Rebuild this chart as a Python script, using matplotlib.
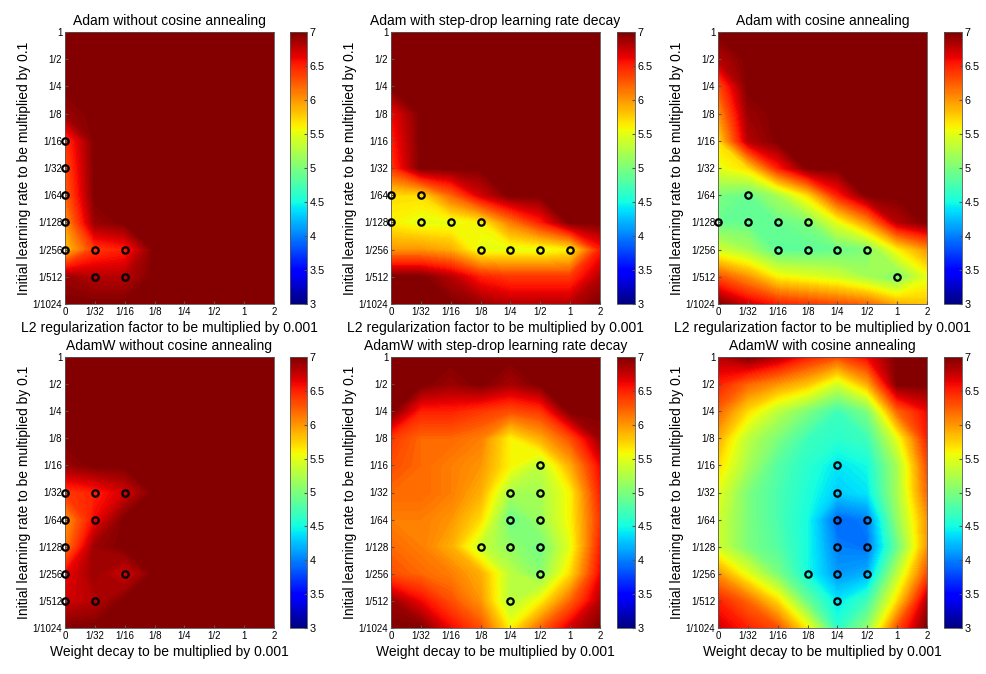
"""Six heat maps of test error: Adam vs AdamW, three learning-rate schedules."""

import matplotlib
matplotlib.use("Agg")
import matplotlib.pyplot as plt
import numpy as np
from matplotlib.colors import Normalize
from matplotlib.cm import ScalarMappable

plt.rcParams["font.family"] = ["Liberation Sans", "DejaVu Sans"]

x_labels = ["0", "1/32", "1/16", "1/8", "1/4", "1/2", "1", "2"]
y_labels = ["1/1024", "1/512", "1/256", "1/128", "1/64", "1/32",
            "1/16", "1/8", "1/4", "1/2", "1"]

# rows run top (lr 1) to bottom (lr 1/1024); columns follow x_labels.
# values above 7 are shown as the top colour.
adam_fixed = [
    [8, 8, 8, 8, 8, 8, 8, 8],
    [8, 8, 8, 8, 8, 8, 8, 8],
    [8, 8, 8, 8, 8, 8, 8, 8],
    [6.9, 7.0, 8, 8, 8, 8, 8, 8],
    [6.4, 7.05, 8, 8, 8, 8, 8, 8],
    [6.3, 7.05, 8, 8, 8, 8, 8, 8],
    [6.2, 7.05, 7.5, 8, 8, 8, 8, 8],
    [6.0, 6.9, 7.2, 7.5, 8, 8, 8, 8],
    [5.8, 6.4, 6.5, 7.0, 8, 8, 8, 8],
    [6.9, 6.8, 6.8, 7.3, 8, 8, 8, 8],
    [7.5, 7.3, 7.5, 8, 8, 8, 8, 8],
]
adam_step = [
    [8, 8, 8, 8, 8, 8, 8, 8],
    [7.6, 8, 8, 8, 8, 8, 8, 8],
    [7.0, 7.4, 8, 8, 8, 8, 8, 8],
    [6.6, 7.1, 8, 8, 8, 8, 8, 8],
    [6.5, 7.1, 8, 8, 8, 8, 8, 8],
    [6.4, 7.0, 7.5, 8, 8, 8, 8, 8],
    [5.7, 5.7, 6.2, 6.7, 7.2, 7.5, 8, 8],
    [5.6, 5.5, 5.5, 5.6, 6.1, 6.5, 7.0, 7.3],
    [6.0, 6.0, 5.9, 5.5, 5.5, 5.5, 5.6, 6.5],
    [7.0, 7.0, 6.8, 6.5, 6.4, 6.4, 6.4, 6.8],
    [7.5, 7.5, 7.2, 6.9, 6.8, 6.8, 6.8, 7.0],
]
adam_cos = [
    [7.1, 7.5, 8, 8, 8, 8, 8, 8],
    [6.8, 7.2, 8, 8, 8, 8, 8, 8],
    [6.3, 7.0, 8, 8, 8, 8, 8, 8],
    [6.0, 6.9, 8, 8, 8, 8, 8, 8],
    [5.7, 6.8, 8, 8, 8, 8, 8, 8],
    [5.5, 5.7, 6.5, 7.5, 8, 8, 8, 8],
    [5.0, 4.9, 5.2, 5.7, 6.5, 7.2, 8, 8],
    [4.9, 4.9, 4.9, 5.0, 5.5, 6.0, 6.8, 7.2],
    [5.4, 5.2, 4.85, 4.85, 4.9, 5.0, 5.6, 6.0],
    [6.3, 6.0, 5.6, 5.5, 5.4, 5.2, 5.0, 5.5],
    [7.0, 6.7, 6.5, 6.4, 6.3, 6.2, 5.9, 5.8],
]
adamw_fixed = [
    [8, 8, 8, 8, 8, 8, 8, 8],
    [8, 8, 8, 8, 8, 8, 8, 8],
    [8, 8, 8, 8, 8, 8, 8, 8],
    [7.05, 6.97, 7.1, 8, 8, 8, 8, 8],
    [6.9, 7.05, 7.1, 7.3, 8, 8, 8, 8],
    [6.4, 6.5, 6.7, 7.1, 8, 8, 8, 8],
    [6.0, 6.6, 7.1, 7.5, 8, 8, 8, 8],
    [6.1, 6.9, 7.2, 7.5, 8, 8, 8, 8],
    [6.6, 6.9, 6.7, 7.1, 8, 8, 8, 8],
    [6.7, 6.8, 7.0, 7.2, 8, 8, 8, 8],
    [7.1, 7.2, 7.3, 8, 8, 8, 8, 8],
]
adamw_step = [
    [7.5, 7.3, 7.2, 7.2, 7.3, 7.3, 7.5, 7.5],
    [7.2, 7.0, 6.9, 7.0, 6.85, 7.0, 7.3, 7.5],
    [7.0, 6.5, 6.5, 6.4, 6.3, 6.4, 7.0, 7.2],
    [6.4, 6.2, 6.2, 6.1, 5.6, 5.9, 6.3, 6.9],
    [6.3, 6.2, 6.1, 6.0, 5.6, 5.3, 5.9, 6.6],
    [6.2, 6.2, 6.1, 5.9, 5.2, 5.2, 5.6, 6.5],
    [6.1, 6.1, 6.0, 5.7, 4.9, 5.15, 5.6, 6.4],
    [6.2, 6.1, 5.9, 5.35, 5.1, 4.95, 5.5, 6.5],
    [6.3, 6.2, 6.1, 5.9, 5.3, 5.05, 5.7, 6.6],
    [6.9, 6.6, 6.3, 6.0, 5.25, 5.6, 6.2, 6.8],
    [7.2, 7.0, 6.6, 6.3, 5.6, 6.2, 6.7, 7.1],
]
adamw_cos = [
    [6.8, 7.0, 6.8, 6.5, 6.3, 6.6, 7.2, 7.2],
    [6.5, 6.2, 6.0, 5.8, 5.4, 5.9, 7.1, 7.0],
    [6.2, 5.7, 5.3, 5.0, 4.7, 5.0, 6.2, 6.6],
    [5.9, 5.3, 5.0, 4.7, 4.6, 4.7, 5.5, 6.5],
    [5.7, 5.2, 4.8, 4.6, 4.4, 4.5, 5.2, 6.3],
    [5.5, 5.0, 4.75, 4.55, 4.3, 4.4, 5.2, 6.2],
    [5.4, 5.0, 4.75, 4.5, 3.9, 4.0, 5.1, 6.0],
    [5.4, 5.0, 4.8, 4.5, 4.0, 3.95, 4.9, 6.0],
    [6.0, 5.5, 5.0, 4.5, 4.1, 4.2, 5.3, 6.3],
    [6.5, 6.2, 5.7, 4.9, 4.4, 4.7, 5.7, 6.8],
    [6.7, 6.5, 6.3, 5.6, 4.6, 5.1, 6.3, 7.0],
]

# best settings, as (x label, y label)
adam_fixed_best = [("0", "1/16"), ("0", "1/32"), ("0", "1/64"), ("0", "1/128"),
                   ("0", "1/256"), ("1/32", "1/256"), ("1/16", "1/256"),
                   ("1/32", "1/512"), ("1/16", "1/512")]
adam_step_best = [("0", "1/64"), ("1/32", "1/64"), ("0", "1/128"),
                  ("1/32", "1/128"), ("1/16", "1/128"), ("1/8", "1/128"),
                  ("1/8", "1/256"), ("1/4", "1/256"), ("1/2", "1/256"),
                  ("1", "1/256")]
adam_cos_best = [("1/32", "1/64"), ("0", "1/128"), ("1/32", "1/128"),
                 ("1/16", "1/128"), ("1/8", "1/128"), ("1/16", "1/256"),
                 ("1/8", "1/256"), ("1/4", "1/256"), ("1/2", "1/256"),
                 ("1", "1/512")]
adamw_fixed_best = [("0", "1/32"), ("1/32", "1/32"), ("1/16", "1/32"),
                    ("0", "1/64"), ("1/32", "1/64"), ("0", "1/128"),
                    ("0", "1/256"), ("1/16", "1/256"), ("0", "1/512"),
                    ("1/32", "1/512")]
adamw_step_best = [("1/2", "1/16"), ("1/4", "1/32"), ("1/2", "1/32"),
                   ("1/4", "1/64"), ("1/2", "1/64"), ("1/8", "1/128"),
                   ("1/4", "1/128"), ("1/2", "1/128"), ("1/2", "1/256"),
                   ("1/4", "1/512")]
adamw_cos_best = [("1/4", "1/16"), ("1/4", "1/32"), ("1/4", "1/64"),
                  ("1/2", "1/64"), ("1/4", "1/128"), ("1/2", "1/128"),
                  ("1/8", "1/256"), ("1/4", "1/256"), ("1/2", "1/256"),
                  ("1/4", "1/512")]

titles = ["Adam without cosine annealing",
          "Adam with step-drop learning rate decay",
          "Adam with cosine annealing",
          "AdamW without cosine annealing",
          "AdamW with step-drop learning rate decay",
          "AdamW with cosine annealing"]
xlabel_adam = "L2 regularization factor to be multiplied by 0.001"
xlabel_adamw = "Weight decay to be multiplied by 0.001"
ylabel = "Initial learning rate to be multiplied by 0.1"

VMIN, VMAX = 3.0, 7.0
W, H = 987, 674


def box(x0, y0, x1, y1):
    # pixel box (top-left origin) -> figure fraction rect
    return [x0 / W, 1 - y1 / H, (x1 - x0) / W, (y1 - y0) / H]


def draw_panel(fig, ax_rect, cax_rect, grid, best, title, xlabel):
    ax = fig.add_axes(ax_rect)
    cax = fig.add_axes(cax_rect)
    z = np.clip(np.array(grid, dtype=float)[::-1], VMIN, VMAX)
    xs = np.arange(len(x_labels))
    ys = np.arange(len(y_labels))
    levels = np.linspace(VMIN, VMAX, 121)
    ax.contourf(xs, ys, z, levels=levels, cmap="jet", vmin=VMIN, vmax=VMAX,
                antialiased=False)
    bx = [x_labels.index(a) for a, _ in best]
    by = [y_labels.index(b) for _, b in best]
    ax.plot(bx, by, "o", ms=4.6, mfc="none", mec="black", mew=1.6,
            clip_on=False, zorder=5)
    ax.set_xlim(0, len(x_labels) - 1)
    ax.set_ylim(0, len(y_labels) - 1)
    ax.set_xticks(xs, x_labels)
    ax.set_yticks(ys, y_labels)
    ax.tick_params(direction="in", length=2, labelsize=7, pad=2,
                   color="#555555")
    for s in ax.spines.values():
        s.set_color("#555555")
        s.set_linewidth(0.6)
    ax.set_title(title, fontsize=10, pad=5)
    ax.set_xlabel(xlabel, fontsize=10, labelpad=3)
    ax.set_ylabel(ylabel, fontsize=10, labelpad=1)

    sm = ScalarMappable(norm=Normalize(VMIN, VMAX), cmap="jet")
    cb = fig.colorbar(sm, cax=cax)
    cb.set_ticks(np.arange(3, 7.01, 0.5))
    cb.set_ticklabels(["3", "3.5", "4", "4.5", "5", "5.5", "6", "6.5", "7"])
    cb.ax.tick_params(direction="in", length=2, labelsize=7.8, pad=2,
                      color="#555555")
    cb.outline.set_linewidth(0.6)
    cb.outline.set_edgecolor("#555555")


fig = plt.figure(figsize=(W / 100, H / 100), dpi=100)

grids = [adam_fixed, adam_step, adam_cos, adamw_fixed, adamw_step, adamw_cos]
bests = [adam_fixed_best, adam_step_best, adam_cos_best,
         adamw_fixed_best, adamw_step_best, adamw_cos_best]
col_ax = [(65, 274), (391, 600), (718, 927)]
col_cb = [(290, 307), (617, 635), (944, 962)]
row_y = [(32, 304), (357, 628)]

for i in range(6):
    r, c = divmod(i, 3)
    y0, y1 = row_y[r]
    draw_panel(fig, box(col_ax[c][0], y0, col_ax[c][1], y1),
               box(col_cb[c][0], y0, col_cb[c][1], y1),
               grids[i], bests[i], titles[i],
               xlabel_adam if r == 0 else xlabel_adamw)

fig.savefig("out.png", dpi=100)
